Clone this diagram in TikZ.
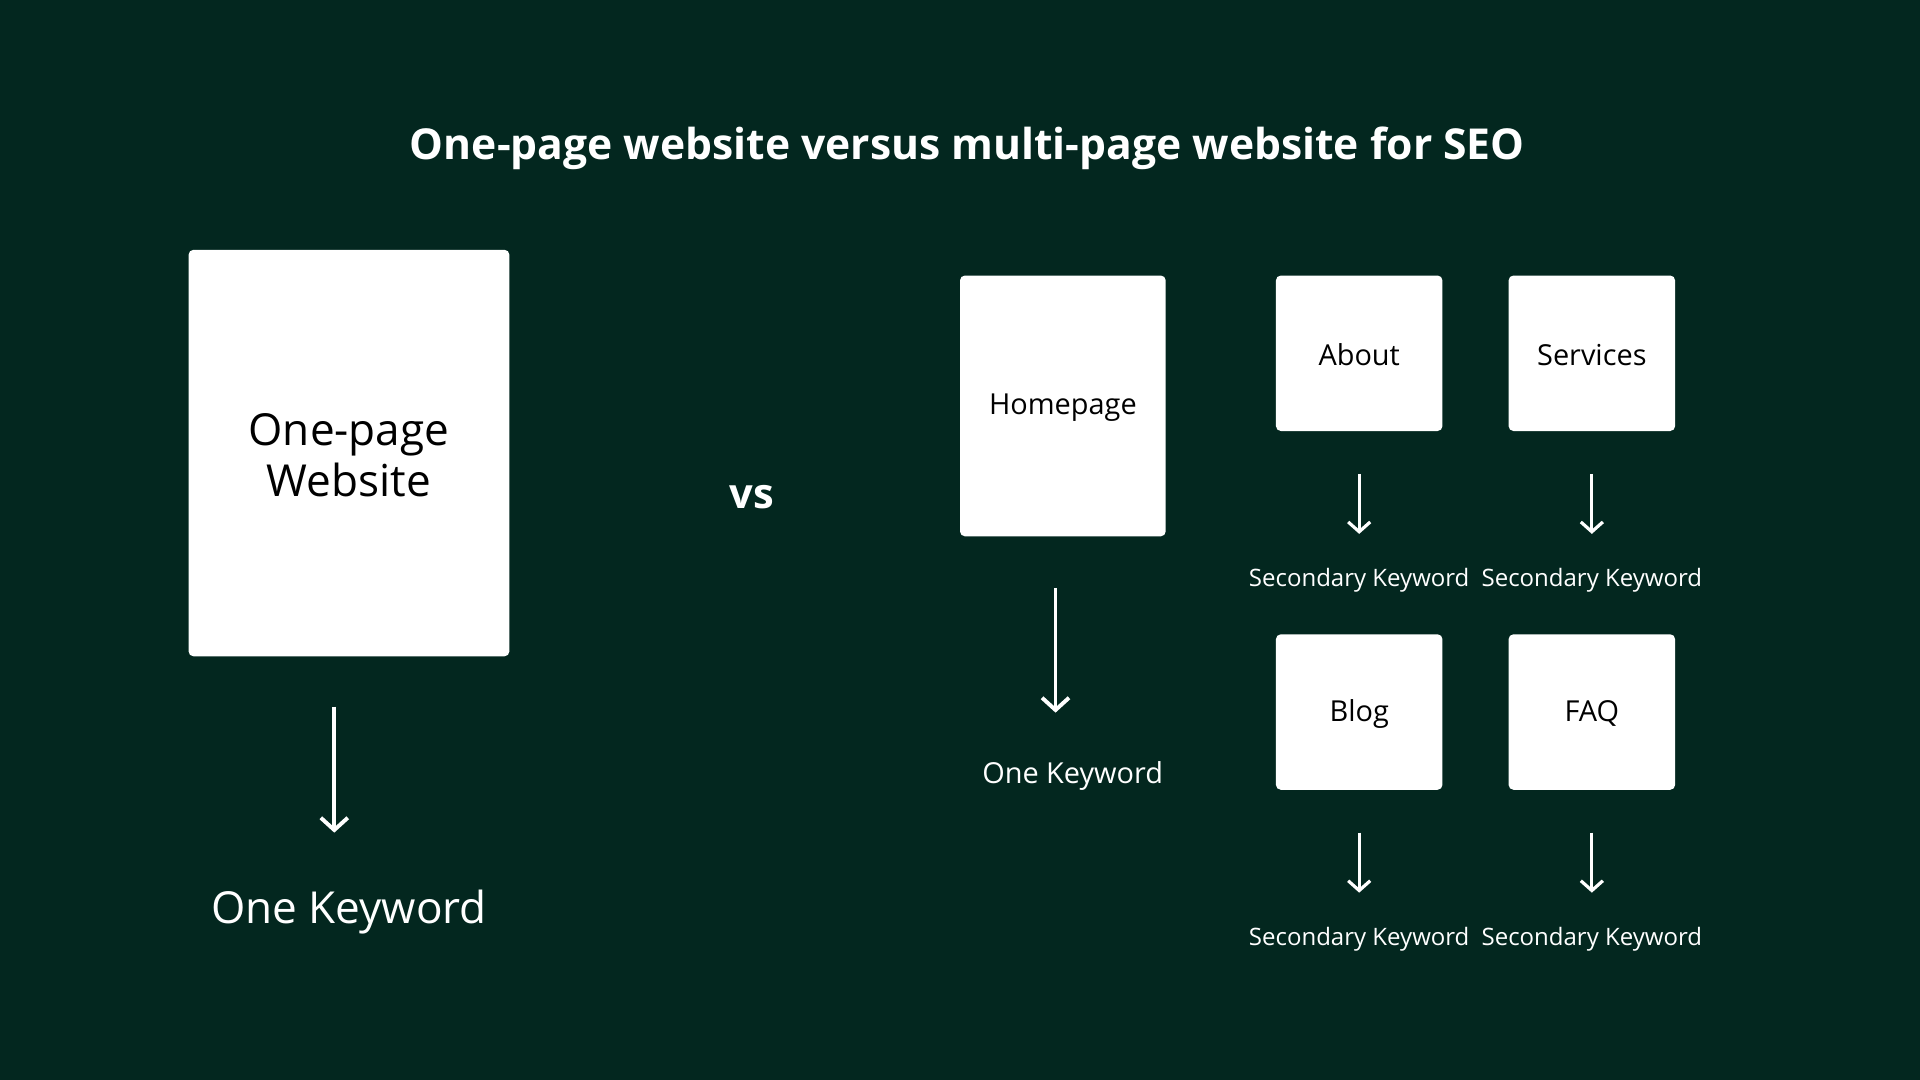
\documentclass[tikz,border=0pt]{standalone}
\usepackage{fontspec}
\setmainfont{Open Sans}
\usetikzlibrary{arrows.meta}
\definecolor{bg}{HTML}{03271F}
\tikzset{x=0.5pt,y=-0.5pt,
 page/.style={fill=white,rounded corners=2pt},
 darr/.style={draw=white,line width=1.6pt,-{Straight Barb[length=5pt,width=11pt,line width=1.6pt]}},
 sarr/.style={draw=white,line width=1.3pt,-{Straight Barb[length=4pt,width=9pt,line width=1.3pt]}},
 lbl/.style={text=white,font=\fontsize{9.8}{11}\selectfont},
 inl/.style={text=black,font=\fontsize{11.8}{14}\selectfont}}
\begin{document}
\begin{tikzpicture}
\fill[bg] (0,0) rectangle (1568,882);
\useasboundingbox (0,0) rectangle (1568,882);
\node[text=white,font=\fontsize{17.4}{20}\selectfont\bfseries] (title) at (790,121) {One-page website versus multi-page website for SEO};
\fill[page] (154,204) rectangle (416,536);
\node[text=black,font=\fontsize{18}{21}\selectfont,align=center] (one) at (285,372) {One-page\\Website};
\coordinate (a1) at (273,577); \coordinate (a1e) at (273,680);
\draw[darr] (a1) -- (a1e);
\node[text=white,font=\fontsize{18}{21}\selectfont] (ok1) at (285,745) {One Keyword};
\node[text=white,font=\fontsize{17}{20}\selectfont\bfseries] (vs) at (614,406) {vs};
\fill[page] (784,225) rectangle (952,438);
\node[inl] (home) at (868,333) {Homepage};
\coordinate (h1) at (862,480); \coordinate (h1e) at (862,582);
\draw[darr] (h1) -- (h1e);
\node[text=white,font=\fontsize{11.8}{14}\selectfont] (ok2) at (876,634) {One Keyword};
\foreach \x/\y/\t [count=\i] in {1110/225/About,1300/225/Services,1110/518/Blog,1300/518/FAQ}{
  \fill[page] (\x-68,\y) rectangle (\x+68,\y+127);
  \node[inl] (p\i) at (\x,\y+65) {\t};
  \coordinate (s\i) at (\x,\y+162); \coordinate (e\i) at (\x,\y+211);
  \draw[sarr] (s\i) -- (e\i);
  \node[lbl] (k\i) at (\x,\y+249) {Secondary Keyword};
}
\end{tikzpicture}
\end{document}
